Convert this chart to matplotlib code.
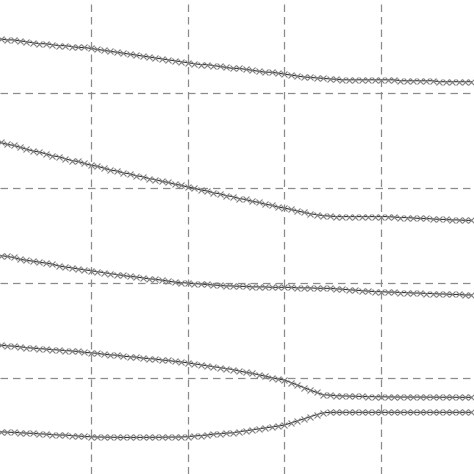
import numpy as np
import matplotlib.pyplot as plt

# sample positions (15 samples per grid cell)
x = np.arange(1, 75) / 15.0

# values, top curve first
curve_a = [4.57, 4.56, 4.56, 4.55, 4.54, 4.53, 4.52, 4.52, 4.51, 4.50, 4.50, 4.49, 4.48, 4.48, 4.47,
           4.46, 4.45, 4.44, 4.43, 4.42, 4.41, 4.40, 4.39, 4.38, 4.37, 4.36, 4.35, 4.34, 4.33, 4.32,
           4.31, 4.30, 4.30, 4.29, 4.28, 4.27, 4.26, 4.26, 4.25, 4.24, 4.23, 4.22, 4.22, 4.21, 4.20,
           4.19, 4.18, 4.17, 4.165, 4.16, 4.155, 4.15, 4.145, 4.14, 4.14, 4.14, 4.14, 4.14, 4.14, 4.14,
           4.14, 4.14, 4.13, 4.13, 4.13, 4.13, 4.13, 4.13, 4.12, 4.12, 4.12, 4.12, 4.12, 4.12]
curve_b = [3.48, 3.46, 3.45, 3.43, 3.41, 3.39, 3.38, 3.36, 3.34, 3.33, 3.31, 3.29, 3.28, 3.26, 3.24,
           3.23, 3.21, 3.19, 3.18, 3.16, 3.15, 3.13, 3.12, 3.10, 3.09, 3.07, 3.06, 3.04, 3.03, 3.01,
           3.00, 2.98, 2.97, 2.95, 2.94, 2.92, 2.91, 2.89, 2.88, 2.86, 2.85, 2.83, 2.82, 2.80, 2.79,
           2.775, 2.76, 2.745, 2.73, 2.72, 2.71, 2.705, 2.70, 2.70, 2.70, 2.70, 2.70, 2.70, 2.70, 2.70,
           2.70, 2.695, 2.69, 2.69, 2.685, 2.68, 2.68, 2.675, 2.67, 2.67, 2.665, 2.665, 2.66, 2.66]
curve_c = [2.29, 2.28, 2.27, 2.25, 2.24, 2.23, 2.22, 2.21, 2.20, 2.18, 2.17, 2.16, 2.15, 2.14, 2.13,
           2.12, 2.11, 2.10, 2.09, 2.08, 2.07, 2.065, 2.055, 2.045, 2.04, 2.03, 2.02, 2.01, 2.005, 2.00,
           1.995, 1.99, 1.985, 1.98, 1.975, 1.97, 1.97, 1.965, 1.965, 1.96, 1.96, 1.96, 1.955, 1.955, 1.955,
           1.955, 1.95, 1.95, 1.95, 1.945, 1.945, 1.944, 1.94, 1.935, 1.93, 1.925, 1.92, 1.915, 1.91, 1.91,
           1.905, 1.905, 1.90, 1.90, 1.895, 1.895, 1.89, 1.89, 1.885, 1.885, 1.88, 1.88, 1.875, 1.875]
curve_d = [1.345, 1.34, 1.335, 1.33, 1.32, 1.315, 1.31, 1.305, 1.30, 1.295, 1.29, 1.285, 1.28, 1.27, 1.266,
           1.26, 1.25, 1.245, 1.24, 1.23, 1.225, 1.22, 1.21, 1.205, 1.20, 1.19, 1.185, 1.175, 1.17, 1.16,
           1.15, 1.14, 1.13, 1.12, 1.11, 1.10, 1.09, 1.075, 1.06, 1.05, 1.035, 1.02, 1.005, 0.99, 0.98,
           0.953, 0.927, 0.90, 0.874, 0.848, 0.825, 0.82, 0.815, 0.812, 0.81, 0.808, 0.806, 0.805, 0.804, 0.803,
           0.802, 0.801, 0.80, 0.80, 0.80, 0.80, 0.799, 0.799, 0.798, 0.798, 0.798, 0.797, 0.797, 0.797]
curve_e = [0.435, 0.43, 0.428, 0.425, 0.42, 0.418, 0.413, 0.41, 0.405, 0.40, 0.40, 0.395, 0.39, 0.385, 0.382,
           0.38, 0.378, 0.377, 0.376, 0.375, 0.375, 0.375, 0.375, 0.376, 0.376, 0.377, 0.378, 0.379, 0.38, 0.382,
           0.39, 0.395, 0.40, 0.41, 0.415, 0.42, 0.424, 0.435, 0.445, 0.455, 0.465, 0.475, 0.485, 0.495, 0.505,
           0.527, 0.549, 0.571, 0.593, 0.615, 0.635, 0.638, 0.639, 0.639, 0.639, 0.639, 0.639, 0.639, 0.639, 0.639,
           0.639, 0.639, 0.639, 0.639, 0.639, 0.639, 0.639, 0.639, 0.639, 0.639, 0.639, 0.639, 0.639, 0.639]

fig = plt.figure(figsize=(4.74, 4.74), dpi=100)
ax = fig.add_axes([0, 0, 1, 1])

for y in (curve_a, curve_b, curve_c, curve_d, curve_e):
    ax.plot(x, y, color='#333333', linewidth=0.8, marker='x', markersize=5,
            markeredgewidth=0.8, markeredgecolor='#808080')

ax.set_xlim(0.06, 4.96)
ax.set_ylim(-0.01, 4.98)
ax.set_xticks([1, 2, 3, 4])
ax.set_yticks([1, 2, 3, 4])
ax.grid(True, color='#8c8c8c', linestyle=(0, (6, 4)), linewidth=0.9)
ax.tick_params(length=0, labelbottom=False, labelleft=False)
for s in ax.spines.values():
    s.set_visible(False)

fig.savefig('out.png', dpi=100)
